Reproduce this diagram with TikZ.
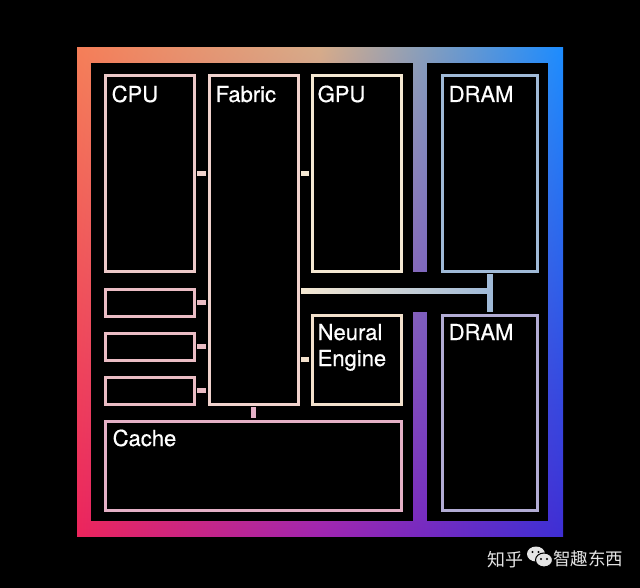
\documentclass[tikz,border=0pt]{standalone}
\usepackage{fontspec}
\newfontfamily\chipfont[FakeBold=0.6]{TeX Gyre Heros}
\newfontfamily\cjkfont{Noto Sans CJK SC}
\usetikzlibrary{calc, shadings}

% frame colours
\definecolor{frTL}{RGB}{245,126,88}
\definecolor{frTM}{RGB}{214,172,138}
\definecolor{frTR}{RGB}{28,140,255}
\definecolor{frBL}{RGB}{236,36,92}
\definecolor{frBM}{RGB}{160,36,176}
\definecolor{frBR}{RGB}{62,46,212}
% block colours
\definecolor{cpuC}{RGB}{236,200,200}
\definecolor{fabC}{RGB}{240,210,205}
\definecolor{gpuC}{RGB}{245,232,210}
\definecolor{dramC}{RGB}{160,186,216}
\definecolor{smlC}{RGB}{234,188,196}
\definecolor{neuC}{RGB}{242,224,204}
\definecolor{cacC}{RGB}{228,176,198}
\definecolor{dramlC}{RGB}{178,172,212}
\definecolor{wmC}{RGB}{228,228,228}

\tikzset{
  box/.style={draw, line width=3pt, inner sep=0pt, anchor=north west, minimum width=89pt},
  link/.style={line width=5pt, shorten <=1.5pt, shorten >=1.5pt},
  tag/.style={text=white, font=\chipfont\fontsize{22}{26}\selectfont, inner sep=0pt, anchor=base west},
}

\begin{document}
\begin{tikzpicture}[x=1pt, y=-1pt]
    \fill[black] (0,0) rectangle (640,588);
    \useasboundingbox (0,0) rectangle (640,588);

    % outer frame and divider
    \shade[upper left=frTL, upper right=frTM, lower left=frBL, lower right=frBM] (77,48) rectangle (321,536);
    \shade[upper left=frTM, upper right=frTR, lower left=frBM, lower right=frBR] (320,48) rectangle (563,536);
    \fill[black] (91,63) rectangle (413,521);
    \fill[black] (427,63) rectangle (548,521);
    \fill[black] (413,272) rectangle (427,312);

    % blocks
    \node[box, draw=cpuC, minimum height=195pt] (cpu) at (103.5,74.5) {};
    \node[box, draw=fabC, minimum height=328pt] (fab) at (207.5,74.5) {};
    \node[box, draw=gpuC, minimum height=195pt] (gpu) at (310.5,74.5) {};
    \node[box, draw=dramC, minimum width=95pt, minimum height=195pt] (dram) at (440.5,74.5) {};
    \node[box, draw=neuC, minimum height=89pt] (neu) at (310.5,313.5) {};
    \node[box, draw=cacC, minimum width=296pt, minimum height=89pt] (cac) at (103.5,419.5) {};
    \node[box, draw=dramlC, minimum width=95pt, minimum height=195pt] (draml) at (440.5,313.5) {};
    \foreach \i/\y in {1/287.5, 2/331.5, 3/375.5} {
      \node[box, draw=smlC, minimum height=27pt] (s\i) at (103.5,\y) {};
      \draw[link, smlC] (s\i.east) -- (s\i.east -| fab.west);
    }

    % links
    \draw[link, fabC] (cpu.east) -- (cpu.east -| fab.west);
    \draw[link, gpuC] (fab.east |- gpu.west) -- (gpu.west);
    \draw[link, neuC] (fab.east |- neu.west) -- (neu.west);
    \draw[link, cacC] (fab.south) -- (fab.south |- cac.north);
    \draw[link, dramC, line width=6pt] (dram.south) -- (draml.north);
    \shade[left color=gpuC, right color=dramC] ([xshift=1.5pt]fab.east |- 0,288.5) rectangle (dram.south |- 0,293.5);

    % labels
    \node[tag] (cpuT) at ([shift={(8,27.5)}]cpu.north west) {CPU};
    \node[tag] (fabT) at ([shift={(8,27.5)}]fab.north west) {Fabric};
    \node[tag] (gpuT) at ([shift={(7,27.5)}]gpu.north west) {GPU};
    \node[tag] (dramT) at ([shift={(8,27.5)}]dram.north west) {DRAM};
    \node[tag, align=left] (neuT) at ([shift={(7,52.5)}]neu.north west) {Neural\\Engine};
    \node[tag] (cacT) at ([shift={(9,26.5)}]cac.north west) {Cache};
    \node[tag] (dramlT) at ([shift={(8,26.5)}]draml.north west) {DRAM};

    % watermark
    \node[text=wmC, font=\cjkfont\fontsize{18}{18}\selectfont, anchor=west, inner sep=0pt] (zhihu) at (487,560) {知乎};
    \fill[wmC] (536,554) ellipse (9 and 7.5);
    \filldraw[fill=wmC, draw=black, line width=1pt] (544,560) ellipse (8.5 and 7);
    \foreach \p in {(532.5,552), (538.5,552), (541,559), (547,559)} {
      \fill[black] \p circle (1.2);
    }
    \node[text=wmC, font=\cjkfont\fontsize{17.5}{18}\selectfont, anchor=west, inner sep=0pt] (wmname) at (553,559) {智趣东西};
  \end{tikzpicture}
\end{document}
